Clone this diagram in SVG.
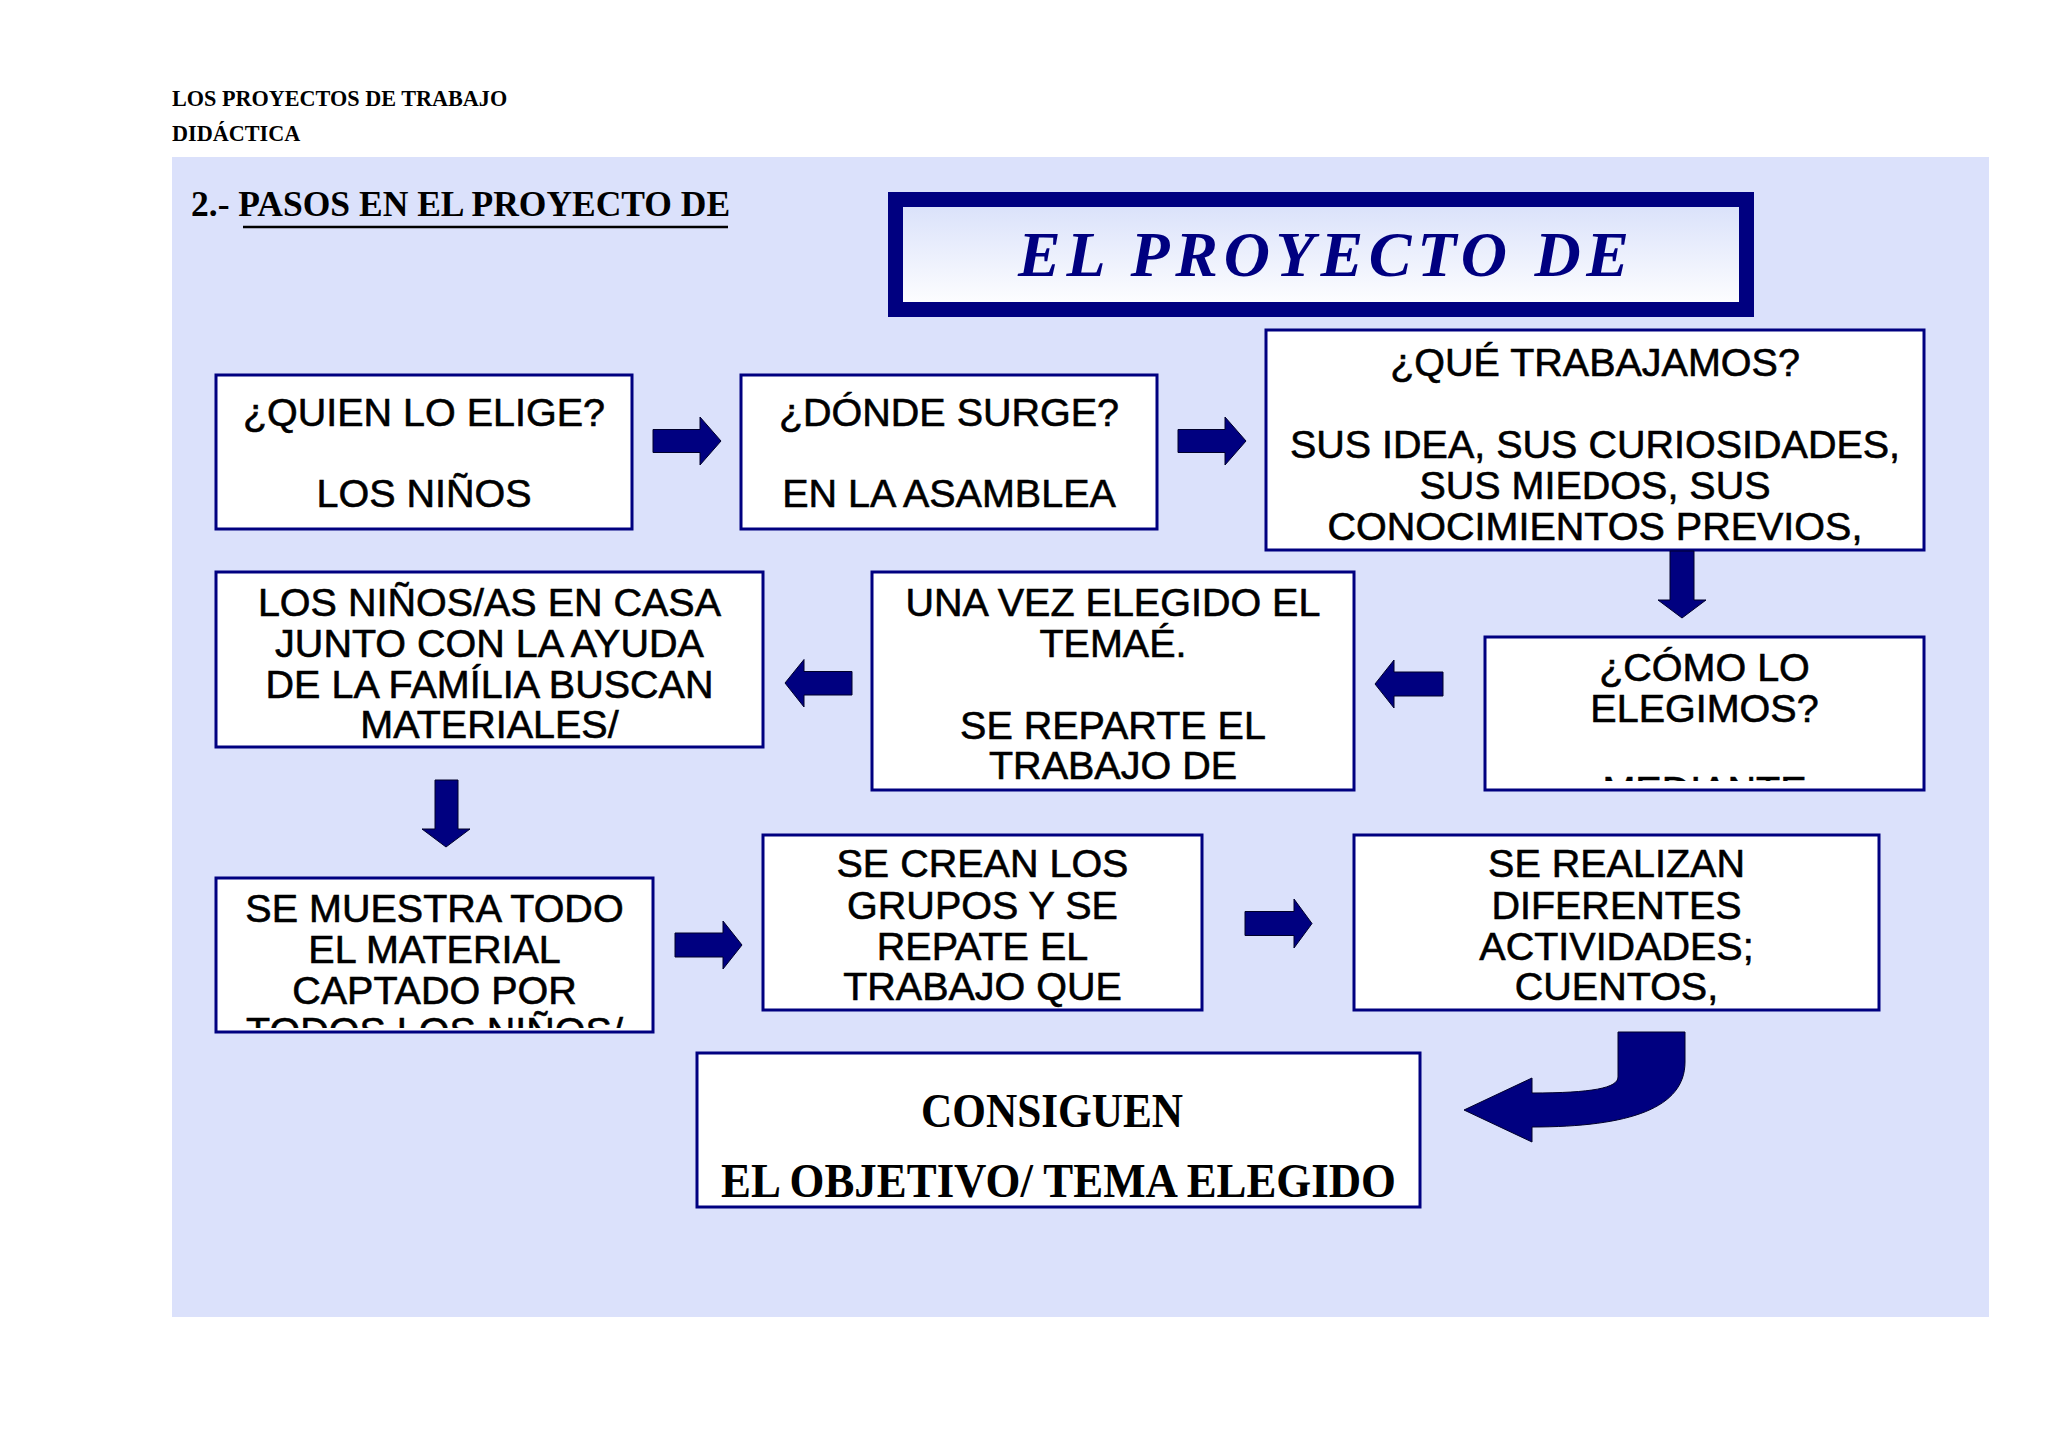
<svg xmlns="http://www.w3.org/2000/svg" width="2048" height="1447" viewBox="0 0 2048 1447">
<defs>
<linearGradient id="tg" x1="0" y1="0" x2="0" y2="1">
<stop offset="0" stop-color="#d8e0fa"/>
<stop offset="1" stop-color="#ffffff"/>
</linearGradient>
<clipPath id="c4"><rect x="1485" y="637" width="439" height="144"/></clipPath>
<clipPath id="c7"><rect x="216" y="878" width="437" height="150"/></clipPath>
</defs>
<style>
.box{fill:#ffffff;stroke:#000080;stroke-width:3}
.t{font-family:"Liberation Sans",Arial,sans-serif;font-size:39.5px;fill:#000;stroke:#000;stroke-width:0.6;text-anchor:middle}
.hd{font-family:"Liberation Serif","Times New Roman",serif;font-weight:bold;fill:#000}
.arr{fill:#000080;stroke:#00002a;stroke-width:1}
</style>
<rect x="0" y="0" width="2048" height="1447" fill="#ffffff"/>
<rect x="172" y="157" width="1817" height="1160" fill="#dbe1fb"/>
<text class="hd" x="172" y="106" font-size="22.2">LOS PROYECTOS DE TRABAJO</text>
<text class="hd" x="172" y="141" font-size="22.2">DIDÁCTICA</text>
<text class="hd" x="191" y="216" font-size="35.5">2.- PASOS EN EL PROYECTO DE</text>
<line x1="243" y1="227" x2="728" y2="227" stroke="#000" stroke-width="2.5"/>

<g id="title">
<rect x="895.5" y="199.5" width="851" height="110" fill="url(#tg)" stroke="#000080" stroke-width="15"/>
<text x="1018" y="276" font-family="'Liberation Serif','Times New Roman',serif" font-weight="bold" font-style="italic" font-size="64" fill="#000080" textLength="611" lengthAdjust="spacing">EL PROYECTO DE</text>
</g>

<g id="n1">
<rect class="box" x="216" y="375" width="416" height="154"/>
<text class="t" x="424" y="426">¿QUIEN LO ELIGE?</text>
<text class="t" x="424" y="507">LOS NIÑOS</text>
</g>
<g id="n2">
<rect class="box" x="741" y="375" width="416" height="154"/>
<text class="t" x="949" y="426">¿DÓNDE SURGE?</text>
<text class="t" x="949" y="507">EN LA ASAMBLEA</text>
</g>
<g id="n3">
<rect class="box" x="1266" y="330" width="658" height="220"/>
<text class="t" x="1595" y="376">¿QUÉ TRABAJAMOS?</text>
<text class="t" x="1595" y="458">SUS IDEA, SUS CURIOSIDADES,</text>
<text class="t" x="1595" y="499">SUS MIEDOS, SUS</text>
<text class="t" x="1595" y="540">CONOCIMIENTOS PREVIOS,</text>
</g>
<g id="n4">
<rect class="box" x="1485" y="637" width="439" height="153"/>
<text class="t" x="1704.5" y="681">¿CÓMO LO</text>
<text class="t" x="1704.5" y="722">ELEGIMOS?</text>
<text class="t" x="1704.5" y="804" clip-path="url(#c4)">MEDIANTE</text>
</g>
<g id="n5">
<rect class="box" x="872" y="572" width="482" height="218"/>
<text class="t" x="1113" y="616">UNA VEZ ELEGIDO EL</text>
<text class="t" x="1113" y="657">TEMAÉ.</text>
<text class="t" x="1113" y="739">SE REPARTE EL</text>
<text class="t" x="1113" y="779">TRABAJO DE</text>
</g>
<g id="n6">
<rect class="box" x="216" y="572" width="547" height="175"/>
<text class="t" x="489.5" y="616">LOS NIÑOS/AS EN CASA</text>
<text class="t" x="489.5" y="657">JUNTO CON LA AYUDA</text>
<text class="t" x="489.5" y="698">DE LA FAMÍLIA BUSCAN</text>
<text class="t" x="489.5" y="738">MATERIALES/</text>
</g>
<g id="n7">
<rect class="box" x="216" y="878" width="437" height="154"/>
<text class="t" x="434.5" y="922">SE MUESTRA TODO</text>
<text class="t" x="434.5" y="963">EL MATERIAL</text>
<text class="t" x="434.5" y="1004">CAPTADO POR</text>
<text class="t" x="434.5" y="1045" clip-path="url(#c7)">TODOS LOS NIÑOS/</text>
</g>
<g id="n8">
<rect class="box" x="763" y="835" width="439" height="175"/>
<text class="t" x="982.5" y="877">SE CREAN LOS</text>
<text class="t" x="982.5" y="919">GRUPOS Y SE</text>
<text class="t" x="982.5" y="960">REPATE EL</text>
<text class="t" x="982.5" y="1000">TRABAJO QUE</text>
</g>
<g id="n9">
<rect class="box" x="1354" y="835" width="525" height="175"/>
<text class="t" x="1616.5" y="877">SE REALIZAN</text>
<text class="t" x="1616.5" y="919">DIFERENTES</text>
<text class="t" x="1616.5" y="960">ACTIVIDADES;</text>
<text class="t" x="1616.5" y="1000">CUENTOS,</text>
</g>
<g id="n10">
<rect class="box" x="697" y="1053" width="723" height="154"/>
<text class="hd" x="921" y="1127" font-size="49" textLength="262" lengthAdjust="spacingAndGlyphs">CONSIGUEN</text>
<text class="hd" x="721" y="1197" font-size="49" textLength="675" lengthAdjust="spacingAndGlyphs">EL OBJETIVO/ TEMA ELEGIDO</text>
</g>

<g id="connectors">
<polygon class="arr" points="653,429.5 700,429.5 700,417 721,441 700,465 700,452.5 653,452.5"/>
<polygon class="arr" points="1178,429.5 1225,429.5 1225,417 1246,441 1225,465 1225,452.5 1178,452.5"/>
<polygon class="arr" points="1670,551 1694,551 1694,600 1706,600 1682,618 1658,600 1670,600"/>
<polygon class="arr" points="1443,672 1394,672 1394,660 1375,684 1394,708 1394,696 1443,696"/>
<polygon class="arr" points="852,671.5 804,671.5 804,659.5 785,683 804,707 804,695 852,695"/>
<polygon class="arr" points="435,780 458,780 458,829 470,829 446,847 422,829 435,829"/>
<polygon class="arr" points="675,933 723,933 723,921 742,945 723,969 723,957 675,957"/>
<polygon class="arr" points="1245,911.5 1294,911.5 1294,899 1312,923.5 1294,948 1294,935.5 1245,935.5"/>
<path class="arr" d="M1618,1032 L1618,1077 C1618,1088 1592,1093 1532,1093 L1532,1078 L1464,1110 L1532,1142 L1532,1127 C1630,1127 1685,1108 1685,1062 L1685,1032 Z"/>
</g>
</svg>
